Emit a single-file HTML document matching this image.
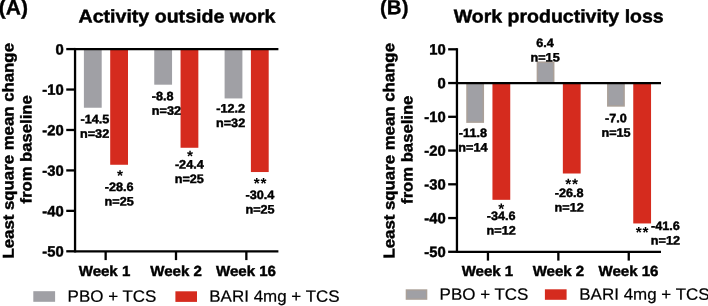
<!DOCTYPE html>
<html><head><meta charset="utf-8"><title>Figure</title>
<style>html,body{margin:0;padding:0;background:#fff;overflow:hidden}svg{display:block}</style></head>
<body>
<svg width="708" height="306" viewBox="0 0 708 306" font-family="'Liberation Sans', Arial, sans-serif" fill="#000">
<rect width="708" height="306" fill="#fff"/>
<rect x="83.90" y="49.10" width="17.80" height="58.64" fill="#a0a0a5"/>
<rect x="110.20" y="49.10" width="17.80" height="115.66" fill="#d52b1e"/>
<rect x="154.25" y="49.10" width="17.80" height="35.59" fill="#a0a0a5"/>
<rect x="180.55" y="49.10" width="17.80" height="98.67" fill="#d52b1e"/>
<rect x="224.60" y="49.10" width="17.80" height="49.34" fill="#a0a0a5"/>
<rect x="250.90" y="49.10" width="17.80" height="122.94" fill="#d52b1e"/>
<line x1="75.05" y1="47.95" x2="75.05" y2="252.45" stroke="#000" stroke-width="2.3"/>
<line x1="75.05" y1="251.30" x2="278.40" y2="251.30" stroke="#000" stroke-width="2.3"/>
<line x1="75.05" y1="49.10" x2="278.40" y2="49.10" stroke="#000" stroke-width="2.2"/>
<line x1="66.25" y1="49.10" x2="75.05" y2="49.10" stroke="#000" stroke-width="2.3"/>
<text font-size="14.8" text-anchor="end" font-weight="bold" stroke="#000" stroke-width="0.45" x="63.75" y="54.40" transform="rotate(0.03 63.75 54.40)">0</text>
<line x1="66.25" y1="89.54" x2="75.05" y2="89.54" stroke="#000" stroke-width="2.3"/>
<text font-size="14.8" text-anchor="end" font-weight="bold" stroke="#000" stroke-width="0.45" x="63.75" y="94.84" transform="rotate(0.03 63.75 94.84)">-10</text>
<line x1="66.25" y1="129.98" x2="75.05" y2="129.98" stroke="#000" stroke-width="2.3"/>
<text font-size="14.8" text-anchor="end" font-weight="bold" stroke="#000" stroke-width="0.45" x="63.75" y="135.28" transform="rotate(0.03 63.75 135.28)">-20</text>
<line x1="66.25" y1="170.42" x2="75.05" y2="170.42" stroke="#000" stroke-width="2.3"/>
<text font-size="14.8" text-anchor="end" font-weight="bold" stroke="#000" stroke-width="0.45" x="63.75" y="175.72" transform="rotate(0.03 63.75 175.72)">-30</text>
<line x1="66.25" y1="210.86" x2="75.05" y2="210.86" stroke="#000" stroke-width="2.3"/>
<text font-size="14.8" text-anchor="end" font-weight="bold" stroke="#000" stroke-width="0.45" x="63.75" y="216.16" transform="rotate(0.03 63.75 216.16)">-40</text>
<line x1="66.25" y1="251.30" x2="75.05" y2="251.30" stroke="#000" stroke-width="2.3"/>
<text font-size="14.8" text-anchor="end" font-weight="bold" stroke="#000" stroke-width="0.45" x="63.75" y="256.60" transform="rotate(0.03 63.75 256.60)">-50</text>
<line x1="105.65" y1="251.30" x2="105.65" y2="260.10" stroke="#000" stroke-width="2.3"/>
<text font-size="14.6" text-anchor="middle" font-weight="bold" stroke="#000" stroke-width="0.45" textLength="51.55" lengthAdjust="spacingAndGlyphs" x="104.50" y="276.00" transform="rotate(0.03 104.50 276.00)">Week 1</text>
<line x1="176.00" y1="251.30" x2="176.00" y2="260.10" stroke="#000" stroke-width="2.3"/>
<text font-size="14.6" text-anchor="middle" font-weight="bold" stroke="#000" stroke-width="0.45" textLength="51.55" lengthAdjust="spacingAndGlyphs" x="176.05" y="276.00" transform="rotate(0.03 176.05 276.00)">Week 2</text>
<line x1="246.35" y1="251.30" x2="246.35" y2="260.10" stroke="#000" stroke-width="2.3"/>
<text font-size="14.6" text-anchor="middle" font-weight="bold" stroke="#000" stroke-width="0.45" textLength="59.92" lengthAdjust="spacingAndGlyphs" x="245.95" y="276.00" transform="rotate(0.03 245.95 276.00)">Week 16</text>
<rect x="466.25" y="83.05" width="17.80" height="39.83" fill="#aaa098"/>
<rect x="467.75" y="83.05" width="14.80" height="38.33" fill="#a0a0a5"/>
<rect x="492.45" y="83.05" width="17.80" height="116.77" fill="#d52b1e"/>
<rect x="536.65" y="61.45" width="17.80" height="21.60" fill="#aaa098"/>
<rect x="538.15" y="62.95" width="14.80" height="20.10" fill="#a0a0a5"/>
<rect x="562.85" y="83.05" width="17.80" height="90.45" fill="#d52b1e"/>
<rect x="607.05" y="83.05" width="17.80" height="23.62" fill="#aaa098"/>
<rect x="608.55" y="83.05" width="14.80" height="22.12" fill="#a0a0a5"/>
<rect x="633.25" y="83.05" width="17.80" height="140.40" fill="#d52b1e"/>
<line x1="456.95" y1="48.15" x2="456.95" y2="252.95" stroke="#000" stroke-width="2.3"/>
<line x1="456.95" y1="251.80" x2="661.00" y2="251.80" stroke="#000" stroke-width="2.3"/>
<line x1="456.95" y1="83.05" x2="661.00" y2="83.05" stroke="#000" stroke-width="2.2"/>
<line x1="448.15" y1="49.30" x2="456.95" y2="49.30" stroke="#000" stroke-width="2.3"/>
<text font-size="14.8" text-anchor="end" font-weight="bold" stroke="#000" stroke-width="0.45" x="445.65" y="54.60" transform="rotate(0.03 445.65 54.60)">10</text>
<line x1="448.15" y1="83.05" x2="456.95" y2="83.05" stroke="#000" stroke-width="2.3"/>
<text font-size="14.8" text-anchor="end" font-weight="bold" stroke="#000" stroke-width="0.45" x="445.65" y="88.35" transform="rotate(0.03 445.65 88.35)">0</text>
<line x1="448.15" y1="116.80" x2="456.95" y2="116.80" stroke="#000" stroke-width="2.3"/>
<text font-size="14.8" text-anchor="end" font-weight="bold" stroke="#000" stroke-width="0.45" x="445.65" y="122.10" transform="rotate(0.03 445.65 122.10)">-10</text>
<line x1="448.15" y1="150.55" x2="456.95" y2="150.55" stroke="#000" stroke-width="2.3"/>
<text font-size="14.8" text-anchor="end" font-weight="bold" stroke="#000" stroke-width="0.45" x="445.65" y="155.85" transform="rotate(0.03 445.65 155.85)">-20</text>
<line x1="448.15" y1="184.30" x2="456.95" y2="184.30" stroke="#000" stroke-width="2.3"/>
<text font-size="14.8" text-anchor="end" font-weight="bold" stroke="#000" stroke-width="0.45" x="445.65" y="189.60" transform="rotate(0.03 445.65 189.60)">-30</text>
<line x1="448.15" y1="218.05" x2="456.95" y2="218.05" stroke="#000" stroke-width="2.3"/>
<text font-size="14.8" text-anchor="end" font-weight="bold" stroke="#000" stroke-width="0.45" x="445.65" y="223.35" transform="rotate(0.03 445.65 223.35)">-40</text>
<line x1="448.15" y1="251.80" x2="456.95" y2="251.80" stroke="#000" stroke-width="2.3"/>
<text font-size="14.8" text-anchor="end" font-weight="bold" stroke="#000" stroke-width="0.45" x="445.65" y="257.10" transform="rotate(0.03 445.65 257.10)">-50</text>
<line x1="487.95" y1="251.80" x2="487.95" y2="260.60" stroke="#000" stroke-width="2.3"/>
<text font-size="14.6" text-anchor="middle" font-weight="bold" stroke="#000" stroke-width="0.45" textLength="51.55" lengthAdjust="spacingAndGlyphs" x="487.40" y="276.00" transform="rotate(0.03 487.40 276.00)">Week 1</text>
<line x1="558.35" y1="251.80" x2="558.35" y2="260.60" stroke="#000" stroke-width="2.3"/>
<text font-size="14.6" text-anchor="middle" font-weight="bold" stroke="#000" stroke-width="0.45" textLength="51.55" lengthAdjust="spacingAndGlyphs" x="558.40" y="276.00" transform="rotate(0.03 558.40 276.00)">Week 2</text>
<line x1="628.75" y1="251.80" x2="628.75" y2="260.60" stroke="#000" stroke-width="2.3"/>
<text font-size="14.6" text-anchor="middle" font-weight="bold" stroke="#000" stroke-width="0.45" textLength="59.92" lengthAdjust="spacingAndGlyphs" x="628.50" y="276.00" transform="rotate(0.03 628.50 276.00)">Week 16</text>
<text font-size="12.2" text-anchor="middle" font-weight="bold" stroke="#000" stroke-width="0.45" textLength="28.78" lengthAdjust="spacingAndGlyphs" x="95.00" y="123.20" transform="rotate(0.03 95.00 123.20)">-14.5</text>
<text font-size="12.2" text-anchor="middle" font-weight="bold" stroke="#000" stroke-width="0.45" textLength="29.13" lengthAdjust="spacingAndGlyphs" x="94.60" y="137.70" transform="rotate(0.03 94.60 137.70)">n=32</text>
<text font-size="12.2" text-anchor="middle" font-weight="bold" stroke="#000" stroke-width="0.45" textLength="21.76" lengthAdjust="spacingAndGlyphs" x="162.60" y="100.20" transform="rotate(0.03 162.60 100.20)">-8.8</text>
<text font-size="12.2" text-anchor="middle" font-weight="bold" stroke="#000" stroke-width="0.45" textLength="29.13" lengthAdjust="spacingAndGlyphs" x="166.40" y="114.70" transform="rotate(0.03 166.40 114.70)">n=32</text>
<text font-size="12.2" text-anchor="middle" font-weight="bold" stroke="#000" stroke-width="0.45" textLength="28.78" lengthAdjust="spacingAndGlyphs" x="230.60" y="112.40" transform="rotate(0.03 230.60 112.40)">-12.2</text>
<text font-size="12.2" text-anchor="middle" font-weight="bold" stroke="#000" stroke-width="0.45" textLength="29.13" lengthAdjust="spacingAndGlyphs" x="230.60" y="126.90" transform="rotate(0.03 230.60 126.90)">n=32</text>
<text x="117.04" y="180.76" transform="rotate(0.03 117.04 180.76)" font-size="15.4" font-weight="bold" letter-spacing="0.81">*</text>
<text font-size="12.2" text-anchor="middle" font-weight="bold" stroke="#000" stroke-width="0.45" textLength="28.78" lengthAdjust="spacingAndGlyphs" x="119.20" y="191.00" transform="rotate(0.03 119.20 191.00)">-28.6</text>
<text font-size="12.2" text-anchor="middle" font-weight="bold" stroke="#000" stroke-width="0.45" textLength="29.13" lengthAdjust="spacingAndGlyphs" x="119.20" y="205.50" transform="rotate(0.03 119.20 205.50)">n=25</text>
<text x="186.99" y="161.36" transform="rotate(0.03 186.99 161.36)" font-size="15.4" font-weight="bold" letter-spacing="0.81">*</text>
<text font-size="12.2" text-anchor="middle" font-weight="bold" stroke="#000" stroke-width="0.45" textLength="28.78" lengthAdjust="spacingAndGlyphs" x="189.30" y="168.60" transform="rotate(0.03 189.30 168.60)">-24.4</text>
<text font-size="12.2" text-anchor="middle" font-weight="bold" stroke="#000" stroke-width="0.45" textLength="29.13" lengthAdjust="spacingAndGlyphs" x="189.30" y="183.10" transform="rotate(0.03 189.30 183.10)">n=25</text>
<text x="253.69" y="188.56" transform="rotate(0.03 253.69 188.56)" font-size="15.4" font-weight="bold" letter-spacing="0.81">**</text>
<text font-size="12.2" text-anchor="middle" font-weight="bold" stroke="#000" stroke-width="0.45" textLength="28.78" lengthAdjust="spacingAndGlyphs" x="260.00" y="198.90" transform="rotate(0.03 260.00 198.90)">-30.4</text>
<text font-size="12.2" text-anchor="middle" font-weight="bold" stroke="#000" stroke-width="0.45" textLength="29.13" lengthAdjust="spacingAndGlyphs" x="260.00" y="213.40" transform="rotate(0.03 260.00 213.40)">n=25</text>
<text font-size="21" text-anchor="start" font-weight="bold" stroke="#000" stroke-width="0.35" x="-1.20" y="14.50" transform="rotate(0.03 -1.20 14.50)">(A)</text>
<text font-size="18.4" text-anchor="middle" font-weight="bold" stroke="#000" stroke-width="0.45" textLength="197" lengthAdjust="spacingAndGlyphs" x="177.00" y="22.50" transform="rotate(0.03 177.00 22.50)">Activity outside work</text>
<text font-size="15.7" text-anchor="middle" font-weight="bold" stroke="#000" stroke-width="0.45" textLength="215.5" lengthAdjust="spacingAndGlyphs" transform="translate(13.60,150.80) rotate(-90.03)">Least square mean change</text>
<text font-size="15.7" text-anchor="middle" font-weight="bold" stroke="#000" stroke-width="0.45" textLength="108.2" lengthAdjust="spacingAndGlyphs" transform="translate(31.50,149.40) rotate(-90.03)">from baseline</text>
<rect x="33.3" y="291.2" width="21.8" height="10.6" fill="#a0a0a5"/>
<text font-size="16.4" text-anchor="start" stroke="#000" stroke-width="0.2" textLength="88.83" lengthAdjust="spacingAndGlyphs" x="67.60" y="301.80" transform="rotate(0.03 67.60 301.80)">PBO + TCS</text>
<rect x="175.4" y="291.3" width="21.6" height="10.6" fill="#d52b1e"/>
<text font-size="16.4" text-anchor="start" stroke="#000" stroke-width="0.2" textLength="130.34" lengthAdjust="spacingAndGlyphs" x="209.30" y="301.80" transform="rotate(0.03 209.30 301.80)">BARI 4mg + TCS</text>
<text font-size="12.2" text-anchor="middle" font-weight="bold" stroke="#000" stroke-width="0.45" textLength="28.08" lengthAdjust="spacingAndGlyphs" x="472.90" y="137.00" transform="rotate(0.03 472.90 137.00)">-11.8</text>
<text font-size="12.2" text-anchor="middle" font-weight="bold" stroke="#000" stroke-width="0.45" textLength="29.13" lengthAdjust="spacingAndGlyphs" x="472.90" y="151.50" transform="rotate(0.03 472.90 151.50)">n=14</text>
<text font-size="12.2" text-anchor="middle" font-weight="bold" stroke="#000" stroke-width="0.45" textLength="17.55" lengthAdjust="spacingAndGlyphs" x="545.10" y="47.10" transform="rotate(0.03 545.10 47.10)">6.4</text>
<text font-size="12.2" text-anchor="middle" font-weight="bold" stroke="#000" stroke-width="0.45" textLength="29.13" lengthAdjust="spacingAndGlyphs" x="545.10" y="61.60" transform="rotate(0.03 545.10 61.60)">n=15</text>
<text font-size="12.2" text-anchor="middle" font-weight="bold" stroke="#000" stroke-width="0.45" textLength="21.76" lengthAdjust="spacingAndGlyphs" x="616.00" y="122.20" transform="rotate(0.03 616.00 122.20)">-7.0</text>
<text font-size="12.2" text-anchor="middle" font-weight="bold" stroke="#000" stroke-width="0.45" textLength="29.13" lengthAdjust="spacingAndGlyphs" x="616.00" y="136.70" transform="rotate(0.03 616.00 136.70)">n=15</text>
<text x="498.19" y="214.06" transform="rotate(0.03 498.19 214.06)" font-size="15.4" font-weight="bold" letter-spacing="0.81">*</text>
<text font-size="12.2" text-anchor="middle" font-weight="bold" stroke="#000" stroke-width="0.45" textLength="28.78" lengthAdjust="spacingAndGlyphs" x="501.20" y="220.00" transform="rotate(0.03 501.20 220.00)">-34.6</text>
<text font-size="12.2" text-anchor="middle" font-weight="bold" stroke="#000" stroke-width="0.45" textLength="29.13" lengthAdjust="spacingAndGlyphs" x="501.20" y="234.50" transform="rotate(0.03 501.20 234.50)">n=12</text>
<text x="565.19" y="189.26" transform="rotate(0.03 565.19 189.26)" font-size="15.4" font-weight="bold" letter-spacing="0.81">**</text>
<text font-size="12.2" text-anchor="middle" font-weight="bold" stroke="#000" stroke-width="0.45" textLength="28.78" lengthAdjust="spacingAndGlyphs" x="569.20" y="197.00" transform="rotate(0.03 569.20 197.00)">-26.8</text>
<text font-size="12.2" text-anchor="middle" font-weight="bold" stroke="#000" stroke-width="0.45" textLength="29.13" lengthAdjust="spacingAndGlyphs" x="569.20" y="211.50" transform="rotate(0.03 569.20 211.50)">n=12</text>
<text x="635.79" y="237.56" transform="rotate(0.03 635.79 237.56)" font-size="15.4" font-weight="bold" letter-spacing="0.81">**</text>
<text font-size="12.2" text-anchor="middle" font-weight="bold" stroke="#000" stroke-width="0.45" textLength="28.78" lengthAdjust="spacingAndGlyphs" x="665.40" y="229.90" transform="rotate(0.03 665.40 229.90)">-41.6</text>
<text font-size="12.2" text-anchor="middle" font-weight="bold" stroke="#000" stroke-width="0.45" textLength="29.13" lengthAdjust="spacingAndGlyphs" x="665.40" y="244.40" transform="rotate(0.03 665.40 244.40)">n=12</text>
<text font-size="20.5" text-anchor="start" font-weight="bold" stroke="#000" stroke-width="0.3" x="380.00" y="14.30" transform="rotate(0.03 380.00 14.30)">(B)</text>
<text font-size="18.4" text-anchor="middle" font-weight="bold" stroke="#000" stroke-width="0.45" textLength="210" lengthAdjust="spacingAndGlyphs" x="558.70" y="22.50" transform="rotate(0.03 558.70 22.50)">Work productivity loss</text>
<text font-size="15.7" text-anchor="middle" font-weight="bold" stroke="#000" stroke-width="0.45" textLength="215.5" lengthAdjust="spacingAndGlyphs" transform="translate(394.40,150.80) rotate(-90.03)">Least square mean change</text>
<text font-size="15.7" text-anchor="middle" font-weight="bold" stroke="#000" stroke-width="0.45" textLength="108.2" lengthAdjust="spacingAndGlyphs" transform="translate(412.50,149.80) rotate(-90.03)">from baseline</text>
<rect x="405.7" y="289.3" width="21.6" height="10.5" fill="#aaa098"/>
<rect x="407.1" y="290.7" width="18.8" height="7.7" fill="#a0a0a5"/>
<text font-size="16.4" text-anchor="start" stroke="#000" stroke-width="0.2" textLength="88.83" lengthAdjust="spacingAndGlyphs" x="439.60" y="299.80" transform="rotate(0.03 439.60 299.80)">PBO + TCS</text>
<rect x="544.9" y="289.3" width="21.7" height="10.5" fill="#d52b1e"/>
<text font-size="16.4" text-anchor="start" stroke="#000" stroke-width="0.2" textLength="130.34" lengthAdjust="spacingAndGlyphs" x="579.30" y="299.80" transform="rotate(0.03 579.30 299.80)">BARI 4mg + TCS</text>
</svg>
</body></html>
